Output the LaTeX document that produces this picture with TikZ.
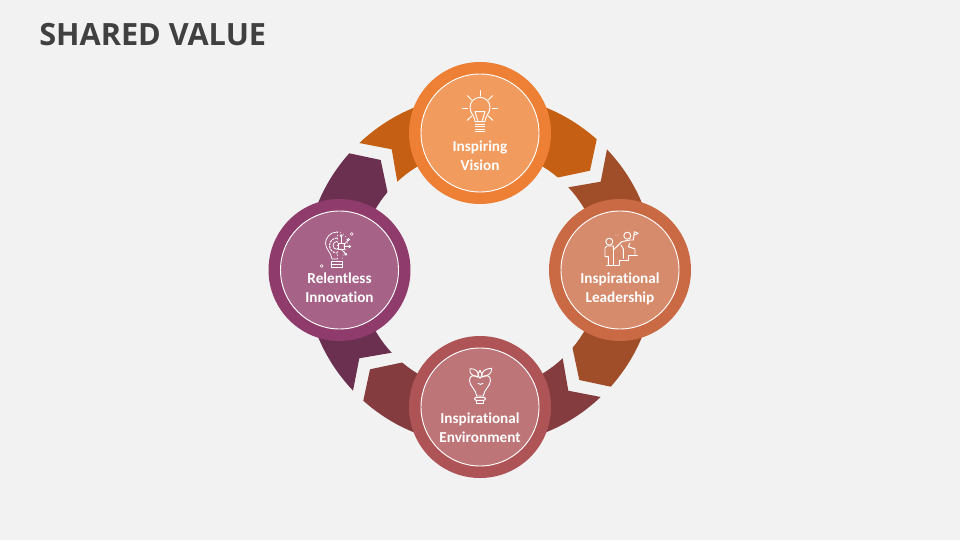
\documentclass[tikz,border=0pt]{standalone}
\usepackage{fontspec}
\setmainfont{Carlito}[Ligatures=NoCommon]
\newfontfamily\titlefont{Open Sans}
\usetikzlibrary{positioning}

\definecolor{pagebg}{HTML}{F2F2F2}
\definecolor{titlegray}{HTML}{404040}
\definecolor{bandvision}{HTML}{C55F13}
\definecolor{bandleader}{HTML}{A04D2A}
\definecolor{bandenviron}{HTML}{843C3F}
\definecolor{bandinnov}{HTML}{6B2F4F}
\definecolor{ringvision}{HTML}{ED8035}
\definecolor{ringleader}{HTML}{C96A44}
\definecolor{ringenviron}{HTML}{AE5457}
\definecolor{ringinnov}{HTML}{8F3B6C}
\definecolor{discvision}{HTML}{F19B5E}
\definecolor{discleader}{HTML}{D68B6C}
\definecolor{discenviron}{HTML}{BE7578}
\definecolor{discinnov}{HTML}{A76387}

\tikzset{
  hubring/.style={circle, minimum size=106.5pt, inner sep=0, outer sep=0},
  hubdisc/.style={circle, minimum size=88.5pt, inner sep=0, outer sep=0, draw=white, line width=.7pt},
  hublabel/.style={text=white, align=center, font=\fontsize{11.4}{14.25}\selectfont\bfseries},
  iconline/.style={draw=white, line width=.7pt, line join=round, line cap=round}
}

\begin{document}
\begin{tikzpicture}[x=.75pt, y=.75pt]

\fill[pagebg] (0,0) rectangle (960,540);
\useasboundingbox (0,0) rectangle (960,540);

\node (title) [anchor=base west, inner sep=0, text=titlegray, font=\fontsize{23}{27}\selectfont\titlefont\bfseries] at (39,494) {SHARED VALUE};

% the four arrow bands
\foreach \ang/\col in {0/bandvision, -90/bandleader, -180/bandenviron, -270/bandinnov}{
  \fill[\col, rotate around={\ang:(480,270)}]
    (596.7,400.7) arc[start angle=48.2, end angle=133.6, radius=175]
    -- (391.7,390.7) -- (397.3,358.3)
    arc[start angle=133.1, end angle=49.9, radius=121]
    -- (590,369.3) -- cycle;
}

\node (vision) [hubring, fill=ringvision] at (480,407) {};
\node (leader) [hubring, fill=ringleader] at (620,270) {};
\node (environ) [hubring, fill=ringenviron] at (480,133) {};
\node (innov) [hubring, fill=ringinnov] at (339.5,270) {};

\node (visiondisc) [hubdisc, fill=discvision] at (vision) {};
\node (leaderdisc) [hubdisc, fill=discleader] at (leader) {};
\node (environdisc) [hubdisc, fill=discenviron] at (environ) {};
\node (innovdisc) [hubdisc, fill=discinnov] at (innov) {};

\node (visionlabel) [hublabel] at (480,384.5) {Inspiring\\Vision};
\node (leaderlabel) [hublabel] at (620,251) {Inspirational\\Leadership};
\node (environlabel) [hublabel] at (480,112.5) {Inspirational\\Environment};
\node (innovlabel) [hublabel] at (339.5,252.5) {Relentless\\Innovation};

% lamp
\begin{scope}[shift={(480,431.7)}, iconline]
  \draw (0,17.7) -- (0,12.5);
  \draw (-17.7,0) -- (-12.5,0);
  \draw (17.7,0) -- (12.5,0);
  \draw (-12.7,12.7) -- (-8.3,8.3);
  \draw (12.7,12.7) -- (8.3,8.3);
  \draw (-12.7,-12) -- (-8.3,-7.7);
  \draw (12.7,-12) -- (8.3,-7.7);
  \draw (-5,-13.4) .. controls (-5,-8) and (-10,-5) .. (-10,1)
    arc[start angle=180, end angle=0, radius=10]
    .. controls (10,-5) and (5,-8) .. (5,-13.4) -- cycle;
  \draw (-5,-3.4) -- (5,-3.4) -- (2,-13) (-2,-13) -- (-5,-3.4);
  \foreach \y in {-15.7,-18.4,-21,-23.4}{ \draw (-4.7,\y) -- (4.7,\y); }
\end{scope}

% climbers
\begin{scope}[shift={(620,292)}, iconline]
  \draw (-10.7,6.3) circle (3.5);
  \draw (7.3,12.3) circle (3.5);
  \draw (-6.7,-2) -- (1.7,6.3) -- (10,8) -- (13.3,8) -- (14.3,16.3) -- (18.3,14.7) -- (14.3,13);
  \draw (-6.7,-2) -- (-6.7,2) -- (-13,2) -- (-15,0) -- (-15,-8.7) -- (-11.7,-8.7) -- (-11.7,-17);
  \draw (-6.7,-2) -- (-6.7,-17);
  \draw (3.3,-10.3) -- (3.3,-1) -- (1,3);
  \draw (10,5) -- (8.3,1.3) -- (15,-1) -- (15,-6.3);
  \draw (-13.3,-17.7) -- (-.7,-17.7) -- (-.7,-12) -- (8.3,-12) -- (8.3,-7) -- (17.3,-7);
  \foreach \x in {-4.7,-3,-1.3}{ \fill[white] (\x,13) circle (.4); }
\end{scope}

% sprouting lamp
\begin{scope}[shift={(480,156.7)}, iconline]
  \draw (-2,6) .. controls (-6,9) and (-10.5,8) .. (-10.5,3) .. controls (-10.5,-3) and (-4,-6) .. (-3.3,-12.7)
    -- (3.3,-12.7) .. controls (4,-6) and (10.5,-3) .. (10.5,3) .. controls (10.5,8) and (6,9) .. (2,6);
  \draw (-1.7,6.7) .. controls (-8,7) and (-11,10) .. (-10,14.5) .. controls (-5,15) and (-1,12) .. (-1.7,6.7) -- cycle;
  \draw (1.7,6.7) .. controls (8,7) and (12,10) .. (11.7,15) .. controls (6,15) and (1,12) .. (1.7,6.7) -- cycle;
  \draw (0,5) .. controls (-3,8) and (-2,11) .. (0,13) .. controls (2,11) and (3,8) .. (0,5) -- cycle;
  \draw (-2,0) .. controls (-1,-1.5) and (2,-1.5) .. (3,0);
  \draw[rounded corners=1pt] (-5.5,-14) rectangle (5.5,-17);
  \draw (-3.5,-17) -- (-3.5,-20) -- (3.5,-20) -- (3.5,-17);
\end{scope}

% gear lamp
\begin{scope}[shift={(337,295)}, iconline, line width=.55pt]
  \draw (0,13) .. controls (-7,13) and (-11.5,7) .. (-11.5,1.7) .. controls (-11.5,-4) and (-6,-7) .. (-5,-14) -- (0,-14);
  \draw[line width=.45pt, dotted] (0,13) -- (0,-15);
  \draw[line width=.45pt, dotted] (0,13) .. controls (7,13) and (10.5,7) .. (10.5,1.7) .. controls (10.5,-4) and (6,-7) .. (5,-14);
  \draw[line width=.8pt, dash pattern=on 1.2pt off 1.2pt] (0,7) arc[start angle=90, end angle=270, radius=7.5];
  \draw (0,3.6) arc[start angle=90, end angle=270, radius=4];
  \draw (1.7,2) rectangle (7,-4);
  \draw (4.3,2) -- (4.3,8);
  \draw (7,0) -- (10.7,4.6);
  \draw (7,-1.5) -- (11.2,-1.5);
  \draw (4,-4) -- (8,-8.3);
  \foreach \x/\y in {4.3/9.2, 11.5/5.5, 12.4/-1.5, 8.8/-9.3}{ \draw (\x,\y) circle (1.1); }
  \draw (-6,-16.5) rectangle (5.3,-22);
  \draw (-6,-19) -- (5.3,-19);
  \draw[line width=.45pt] (14.7,12.5) -- (16.2,11) -- (14.7,9.5) -- (13.2,11) -- cycle;
  \draw[line width=.45pt] (-15.3,-19.5) -- (-13.8,-21) -- (-15.3,-22.5) -- (-16.8,-21) -- cycle;
\end{scope}

\end{tikzpicture}
\end{document}
